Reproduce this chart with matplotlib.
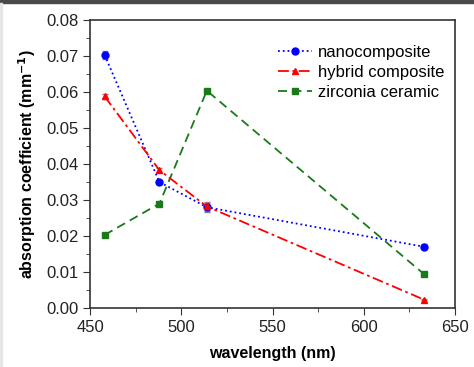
import matplotlib
matplotlib.use("Agg")
import matplotlib.pyplot as plt
from matplotlib.ticker import MultipleLocator
from matplotlib.patches import Rectangle

plt.rcParams['font.family'] = ['Liberation Sans', 'DejaVu Sans']

wavelength = [458, 488, 514, 633]
nano = [0.0703, 0.0350, 0.0280, 0.0170]
nano_err = [0.0012, 0.0006, 0.0012, 0.0007]
hybrid = [0.0588, 0.0383, 0.0282, 0.0023]
hybrid_err = [0.0006, 0.0005, 0.0012, 0.0002]
zirconia = [0.0203, 0.0290, 0.0604, 0.0094]

fig = plt.figure(figsize=(4.74, 3.67), dpi=100)
fig.patches.append(Rectangle((0, 1 - 3/367), 1, 3/367, transform=fig.transFigure,
                             color='#4a4a4a', zorder=10))
fig.patches.append(Rectangle((0, 0), 2/474, 1 - 3/367, transform=fig.transFigure,
                             color='#e6e6e6', zorder=10))
ax = fig.add_axes([0.19, 0.161, 0.77, 0.784])

c1 = ax.errorbar(wavelength, nano, yerr=nano_err, color='#0000ff', ls=':', lw=1.3,
                 marker='o', ms=5, capsize=2, ecolor='#8080a0', elinewidth=0.8)
c2 = ax.errorbar(wavelength, hybrid, yerr=hybrid_err, color='#ff0000', ls='-.', lw=1.3,
                 marker='^', ms=5, capsize=2, ecolor='#a08080', elinewidth=0.8,
                 dashes=(6, 2, 1.5, 2))
l3, = ax.plot(wavelength, zirconia, color='#1a7a1a', ls='--', lw=1.3, dashes=(5, 3),
              marker='s', ms=4)

ax.set_xlim(450, 650)
ax.set_ylim(0, 0.08)
ax.xaxis.set_major_locator(MultipleLocator(50))
ax.xaxis.set_minor_locator(MultipleLocator(25))
ax.yaxis.set_major_locator(MultipleLocator(0.01))
ax.yaxis.set_minor_locator(MultipleLocator(0.005))
ax.yaxis.set_major_formatter(matplotlib.ticker.FormatStrFormatter('%.2f'))
ax.tick_params(which='both', direction='out', top=False, right=False, labelsize=12,
               color='#333333', labelcolor='#222222')
ax.tick_params(which='major', length=5)
ax.tick_params(which='minor', length=3)
for s in ax.spines.values():
    s.set_color('#333333')
    s.set_linewidth(1.2)

ax.set_xlabel('wavelength (nm)', fontsize=11.5, fontweight='bold', labelpad=8)
ax.set_ylabel('absorption coefficient (mm$^{\\mathbf{-1}}$)', fontsize=11.5, fontweight='bold', labelpad=6)

ax.legend([c1[0], c2[0], l3], ['nanocomposite', 'hybrid composite', 'zirconia ceramic'],
          loc='upper right', frameon=False, fontsize=12, handlelength=2.0,
          handletextpad=0.4, labelspacing=0.3, bbox_to_anchor=(1.013, 0.965))

fig.savefig('out.png', dpi=100)
